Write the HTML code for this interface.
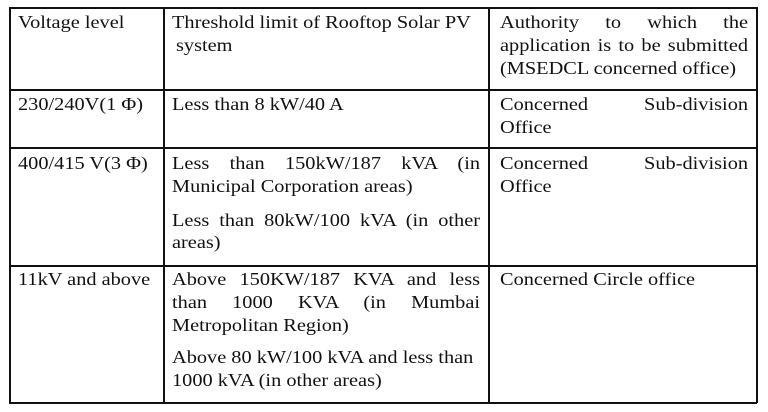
<!DOCTYPE html>
<html><head><meta charset="utf-8"><style>
body{margin:0;width:768px;height:412px;background:#fff;position:relative;overflow:hidden;font-family:"Liberation Serif",serif;font-size:18px;color:#111}
.h{position:absolute;height:1.5px;background:#111}
.v{position:absolute;width:1.5px;background:#111}
.t{position:absolute;line-height:22px;height:22px;white-space:nowrap;transform:scaleX(1.13);transform-origin:0 0}
.j{text-align:justify;text-align-last:justify;white-space:normal}
.w3{width:219.5px}.w2{width:272.6px}
</style></head><body>
<div class="h" style="left:9px;top:7px;width:748px"></div>
<div class="h" style="left:9px;top:89px;width:748px"></div>
<div class="h" style="left:9px;top:147px;width:748px"></div>
<div class="h" style="left:9px;top:265px;width:748px"></div>
<div class="h" style="left:9px;top:402px;width:748px"></div>
<div class="v" style="left:9px;top:7px;height:396px"></div>
<div class="v" style="left:163px;top:7px;height:396px"></div>
<div class="v" style="left:488px;top:7px;height:396px"></div>
<div class="v" style="left:756px;top:7px;height:396px"></div>

<div class="t" style="left:18px;top:11px">Voltage level</div>
<div class="t" style="left:172px;top:11px">Threshold limit of Rooftop Solar PV</div>
<div class="t" style="left:176px;top:34px">system</div>
<div class="t j w3" style="left:500px;top:11px">Authority to which the</div>
<div class="t j w3" style="left:500px;top:34px">application is to be submitted</div>
<div class="t" style="left:500px;top:57px">(MSEDCL concerned office)</div>

<div class="t" style="left:18px;top:93px">230/240V(1 Φ)</div>
<div class="t" style="left:172px;top:93px">Less than 8 kW/40 A</div>
<div class="t j w3" style="left:500px;top:93px">Concerned Sub-division</div>
<div class="t" style="left:500px;top:116px">Office</div>

<div class="t" style="left:18px;top:152px">400/415 V(3 Φ)</div>
<div class="t j w2" style="left:172px;top:152px">Less than 150kW/187 kVA (in</div>
<div class="t" style="left:172px;top:175px">Municipal Corporation areas)</div>
<div class="t j w2" style="left:172px;top:209px">Less than 80kW/100 kVA (in other</div>
<div class="t" style="left:172px;top:231px">areas)</div>
<div class="t j w3" style="left:500px;top:152px">Concerned Sub-division</div>
<div class="t" style="left:500px;top:175px">Office</div>

<div class="t" style="left:18px;top:268px">11kV and above</div>
<div class="t j w2" style="left:172px;top:268px">Above 150KW/187 KVA and less</div>
<div class="t j w2" style="left:172px;top:291px">than 1000 KVA (in Mumbai</div>
<div class="t" style="left:172px;top:314px">Metropolitan Region)</div>
<div class="t" style="left:172px;top:346px">Above 80 kW/100 kVA and less than</div>
<div class="t" style="left:172px;top:369px">1000 kVA (in other areas)</div>
<div class="t" style="left:500px;top:268px">Concerned Circle office</div>
</body></html>
